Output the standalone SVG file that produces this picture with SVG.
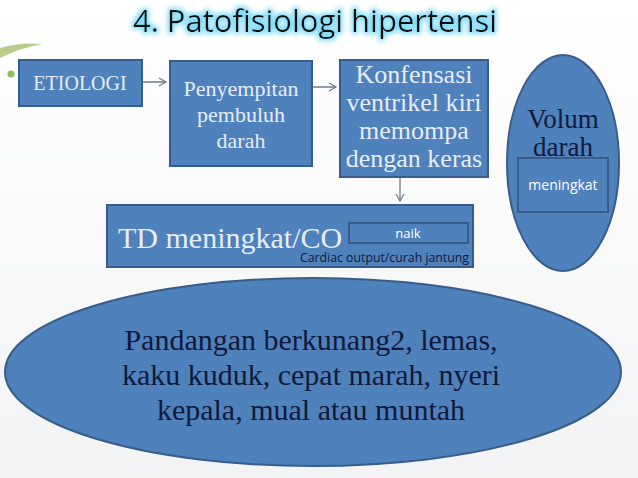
<svg xmlns="http://www.w3.org/2000/svg" width="638" height="478" viewBox="0 0 638 478">
<defs>
<linearGradient id="bg" x1="0" y1="0" x2="0" y2="1">
<stop offset="0" stop-color="#ffffff"/><stop offset="1" stop-color="#f2f3f4"/>
</linearGradient>
<filter id="glow" x="-10%" y="-30%" width="120%" height="160%">
<feMorphology in="SourceAlpha" operator="dilate" radius="2" result="d"/>
<feGaussianBlur in="d" stdDeviation="2.5" result="b"/>
<feFlood flood-color="#7fdcf7"/>
<feComposite in2="b" operator="in" result="g"/>
<feMerge><feMergeNode in="g"/><feMergeNode in="SourceGraphic"/></feMerge>
</filter>
<marker id="arr" markerWidth="10" markerHeight="10" refX="8" refY="5" orient="auto" markerUnits="userSpaceOnUse">
<path d="M1,1 L8,5 L1,9" fill="none" stroke="#6d7b8a" stroke-width="1.2"/>
</marker>
<style>
.box{fill:#4f81bd;stroke:#385d8a;stroke-width:2}
.wt{font-family:"Liberation Serif",serif;fill:#e6edf7;text-anchor:middle}
.dt{font-family:"Liberation Serif",serif;fill:#0f1a3a;text-anchor:middle}
.st{font-family:"Open Sans","Noto Sans",sans-serif;font-size:13px}
.con{stroke:#6d7b8a;stroke-width:1.3;fill:none;marker-end:url(#arr)}
</style>
</defs>
<rect width="638" height="478" fill="url(#bg)"/>
<path d="M0,48 Q20,42 42,44 Q20,48 0,58 Z" fill="#b9cc8a"/>
<circle cx="11" cy="74" r="3.5" fill="#8fbf5a"/>
<text x="315" y="32" font-family="Open Sans,Noto Sans,sans-serif" font-size="31" fill="#111" text-anchor="middle" filter="url(#glow)">4. Patofisiologi hipertensi</text>
<g id="connectors">
<line class="con" x1="128" y1="82" x2="166" y2="82"/>
<line class="con" x1="298" y1="87" x2="336" y2="87"/>
<line class="con" x1="400" y1="170" x2="400" y2="201"/>
</g>
<g id="etiologi">
<rect class="box" x="19" y="60" width="123" height="46"/>
<text class="wt" x="80" y="90" font-size="20">ETIOLOGI</text>
</g>
<g id="penyempitan">
<rect class="box" x="170" y="61" width="142" height="105"/>
<text class="wt" font-size="22"><tspan x="241" y="96">Penyempitan</tspan><tspan x="241" y="122">pembuluh</tspan><tspan x="241" y="148">darah</tspan></text>
</g>
<g id="konfensasi">
<rect class="box" x="340" y="60" width="148" height="117"/>
<text class="wt" font-size="26"><tspan x="414" y="83">Konfensasi</tspan><tspan x="414" y="111">ventrikel kiri</tspan><tspan x="414" y="139">memompa</tspan><tspan x="414" y="167">dengan keras</tspan></text>
</g>
<g id="volum">
<ellipse class="box" cx="563" cy="163" rx="56" ry="108"/>
<text class="dt" font-size="27"><tspan x="563" y="128">Volum</tspan><tspan x="563" y="156">darah</tspan></text>
<rect class="box" x="518" y="158" width="90" height="54" stroke-width="1.5"/>
<text class="st" x="563" y="190" fill="#ffffff" text-anchor="middle" style="font-size:14px">meningkat</text>
</g>
<g id="td">
<rect class="box" x="107" y="205" width="366" height="62"/>
<text class="wt" x="118" y="248" font-size="30" style="text-anchor:start">TD meningkat/CO</text>
<rect class="box" x="349" y="223" width="119" height="20" stroke-width="1.5"/>
<text class="st" x="408" y="238" fill="#ffffff" text-anchor="middle">naik</text>
<text class="st" x="469" y="262" fill="#0f1a3a" text-anchor="end" style="font-size:12.3px">Cardiac output/curah jantung</text>
</g>
<g id="gejala">
<ellipse class="box" cx="313" cy="372" rx="308" ry="94"/>
<text class="dt" font-size="30"><tspan x="311" y="350">Pandangan berkunang2, lemas,</tspan><tspan x="311" y="385">kaku kuduk, cepat marah, nyeri</tspan><tspan x="311" y="420">kepala, mual atau muntah</tspan></text>
</g>
</svg>
